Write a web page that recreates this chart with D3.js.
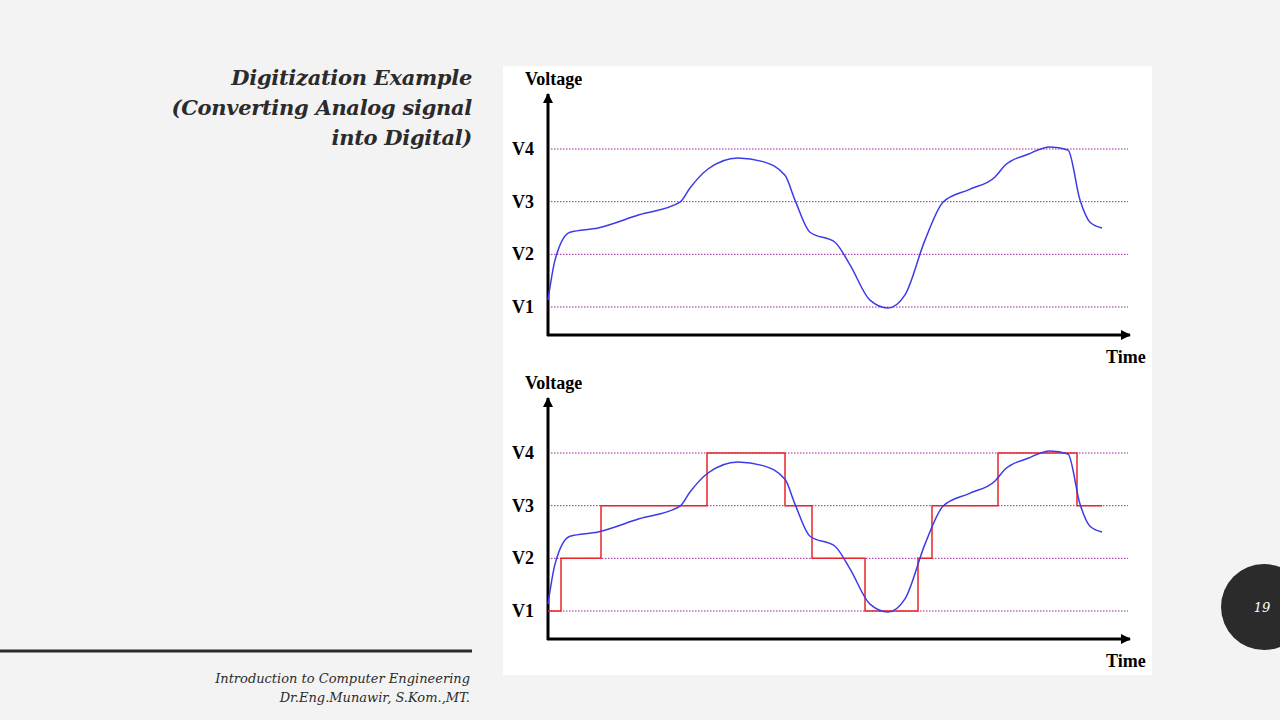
<!DOCTYPE html>
<html><head><meta charset="utf-8">
<script src="https://cdn.jsdelivr.net/npm/d3@7"></script>
<style>body{margin:0;background:#f3f3f3;}svg{display:block}</style>
</head><body>
<script>
// analog signal: time, voltage level
var sigT = [0,7,22,50,91,132,142,160,190,215,237,247,262,287,302,322,340,357,377,395,421,447,457,480,502,520,532,542,554];
var sigV = [1.13,1.89,2.42,2.50,2.75,2.99,3.26,3.62,3.83,3.76,3.50,3.03,2.42,2.23,1.80,1.13,0.98,1.23,2.27,2.99,3.23,3.47,3.69,3.90,4.04,3.98,3.03,2.61,2.50];
// quantized steps
var stepT = [0,13,53,159,237,264,317,370,384,450,529,554];
var stepV = [1,2,3,4,3,2,1,2,3,4,3];
var levels = ["V1","V2","V3","V4"];

var svg = d3.select("body").append("svg").attr("width",1280).attr("height",720);
svg.append("rect").attr("x",503).attr("y",66).attr("width",649).attr("height",609).attr("fill","#fff");

// title
var title = ["Digitization Example","(Converting Analog signal","into Digital)"];
svg.selectAll(".ttl").data(title).enter().append("text")
  .attr("x",472).attr("y",function(d,i){return 85+i*30;})
  .attr("text-anchor","end").attr("font-family","DejaVu Serif").attr("font-style","italic")
  .attr("font-weight","bold").attr("font-size",21).attr("letter-spacing",-0.3).attr("fill","#2b2b2b").text(function(d){return d;});

// footer
svg.append("line").attr("x1",0).attr("x2",472).attr("y1",651).attr("y2",651).attr("stroke","#2b2b2b").attr("stroke-width",3);
["Introduction to Computer Engineering","Dr.Eng.Munawir, S.Kom.,MT."].forEach(function(t,i){
  svg.append("text").attr("x",470).attr("y",683+i*19).attr("text-anchor","end")
    .attr("font-family","DejaVu Serif").attr("font-style","italic").attr("font-size",13).attr("fill","#2b2b2b").text(t);
});
svg.append("circle").attr("cx",1264).attr("cy",607).attr("r",43).attr("fill","#2b2b2b");
svg.append("text").attr("x",1262).attr("y",612).attr("text-anchor","middle").attr("fill","#fff")
  .attr("font-family","DejaVu Serif").attr("font-style","italic").attr("font-size",13).text("19");

svg.append("defs").append("marker").attr("id","arr").attr("viewBox","0 0 10 10").attr("refX",9).attr("refY",5)
  .attr("markerWidth",10).attr("markerHeight",10).attr("markerUnits","userSpaceOnUse").attr("orient","auto")
  .append("path").attr("d","M0,0L10,5L0,10Z").attr("fill","#000");

var sig = sigT.map(function(t,i){return [t,sigV[i]];});
var steps = [];
stepV.forEach(function(v,i){steps.push([stepT[i],v]);});
steps.push([stepT[stepT.length-1],stepV[stepV.length-1]]);

function chart(oy, quant){
  var g = svg.append("g").attr("transform","translate(0,"+oy+")");
  var x = d3.scaleLinear().domain([0,580]).range([548,1128]);
  var y = d3.scaleLinear().domain([1,4]).range([307,149]);
  g.selectAll(".lv").data(levels).enter().append("line")
    .attr("x1",548).attr("x2",1128).attr("y1",function(d,i){return y(i+1);}).attr("y2",function(d,i){return y(i+1);})
    .attr("stroke","#a020a0").attr("stroke-dasharray","1.5,1.5").attr("stroke-width",1);
  g.selectAll(".lb").data(levels).enter().append("text")
    .attr("x",512).attr("y",function(d,i){return y(i+1)+6;})
    .attr("font-family","Liberation Serif").attr("font-weight","bold").attr("font-size",18).text(function(d){return d;});
  g.append("line").attr("x1",548).attr("x2",548).attr("y1",336).attr("y2",94).attr("stroke","#000").attr("stroke-width",3).attr("marker-end","url(#arr)");
  g.append("line").attr("x1",547).attr("x2",1130).attr("y1",335).attr("y2",335).attr("stroke","#000").attr("stroke-width",3).attr("marker-end","url(#arr)");
  g.append("text").attr("x",525).attr("y",85).attr("font-family","Liberation Serif").attr("font-weight","bold").attr("font-size",18).text("Voltage");
  g.append("text").attr("x",1106).attr("y",363).attr("font-family","Liberation Serif").attr("font-weight","bold").attr("font-size",18).text("Time");
  if(quant){
    g.append("path").attr("d",d3.line().x(function(d){return x(d[0]);}).y(function(d){return y(d[1]);}).curve(d3.curveStepAfter)(steps))
      .attr("fill","none").attr("stroke","#e8262a").attr("stroke-width",1.5);
  }
  g.append("path").attr("d",d3.line().x(function(d){return x(d[0]);}).y(function(d){return y(d[1]);}).curve(d3.curveMonotoneX)(sig))
    .attr("fill","none").attr("stroke","#3b3be8").attr("stroke-width",1.5);
}
chart(0,false);
chart(304,true);
</script>
</body></html>
